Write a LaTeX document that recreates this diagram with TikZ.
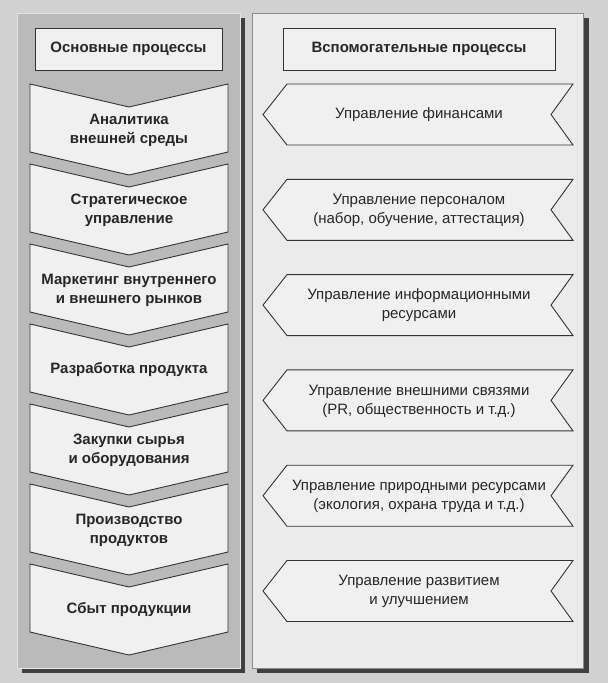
\documentclass[tikz,border=0pt]{standalone}
\usepackage{fontspec}
\setmainfont{Liberation Sans}
\begin{document}
\begin{tikzpicture}[x=1pt,y=-1pt,
  box/.style={draw=black!80,line width=0.9pt,fill=white!94!black},
  ltxt/.style={font=\bfseries\fontsize{15}{19}\selectfont,align=center,text=black!85},
  rtxt/.style={font=\fontsize{15}{19}\selectfont,align=center,text=black!85}]
\fill[black!18] (0,0) rectangle (608,683);
\useasboundingbox (0,0) rectangle (608,683);
% panels with shadows
\fill[black!75] (22,18) rectangle (245,673);
\fill[black!75] (257,18) rectangle (589,673);
\draw[fill=black!27,draw=white!90!black,line width=1pt] (17,13) rectangle (240,668);
\draw[fill=white!92!black,draw=black!45,line width=1pt] (252,13) rectangle (583,668);
% headers
\node[box,minimum width=187,minimum height=42,ltxt,inner sep=0] (h1) at (128.5,49) {Основные процессы};
\node[box,minimum width=272,minimum height=42,inner sep=0,font=\bfseries\fontsize{15}{19}\selectfont,text=black!85] (h2) at (419,49) {Вспомогательные процессы};
% chevrons
\foreach \k/\t in {0/{Аналитика\\внешней среды},1/{Стратегическое\\управление},2/{Маркетинг внутреннего\\и внешнего рынков},3/{Разработка продукта},4/{Закупки сырья\\и оборудования},5/{Производство\\продуктов},6/{Сбыт продукции}}{
  \pgfmathsetmacro{\y}{84+80*\k}
  \draw[box,line join=miter] (30,\y) -- (129,\y+23) -- (228,\y) -- (228,\y+68) -- (129,\y+91) -- (30,\y+68) -- cycle;
  \node[ltxt] (c\k) at (129,\y+46) {\t};
}
% left arrows
\foreach \k/\t in {0/{Управление финансами},1/{Управление персоналом\\(набор, обучение, аттестация)},2/{Управление информационными\\ресурсами},3/{Управление внешними связями\\(PR, общественность и т.д.)},4/{Управление природными ресурсами\\(экология, охрана труда и т.д.)},5/{Управление развитием\\и улучшением}}{
  \pgfmathsetmacro{\y}{84+95.3*\k}
  \draw[box,line join=miter] (263,\y+30.5) -- (287,\y) -- (573,\y) -- (551,\y+30.5) -- (573,\y+61) -- (287,\y+61) -- cycle;
  \node[rtxt] (a\k) at (419,\y+31) {\t};
}
\end{tikzpicture}
\end{document}
